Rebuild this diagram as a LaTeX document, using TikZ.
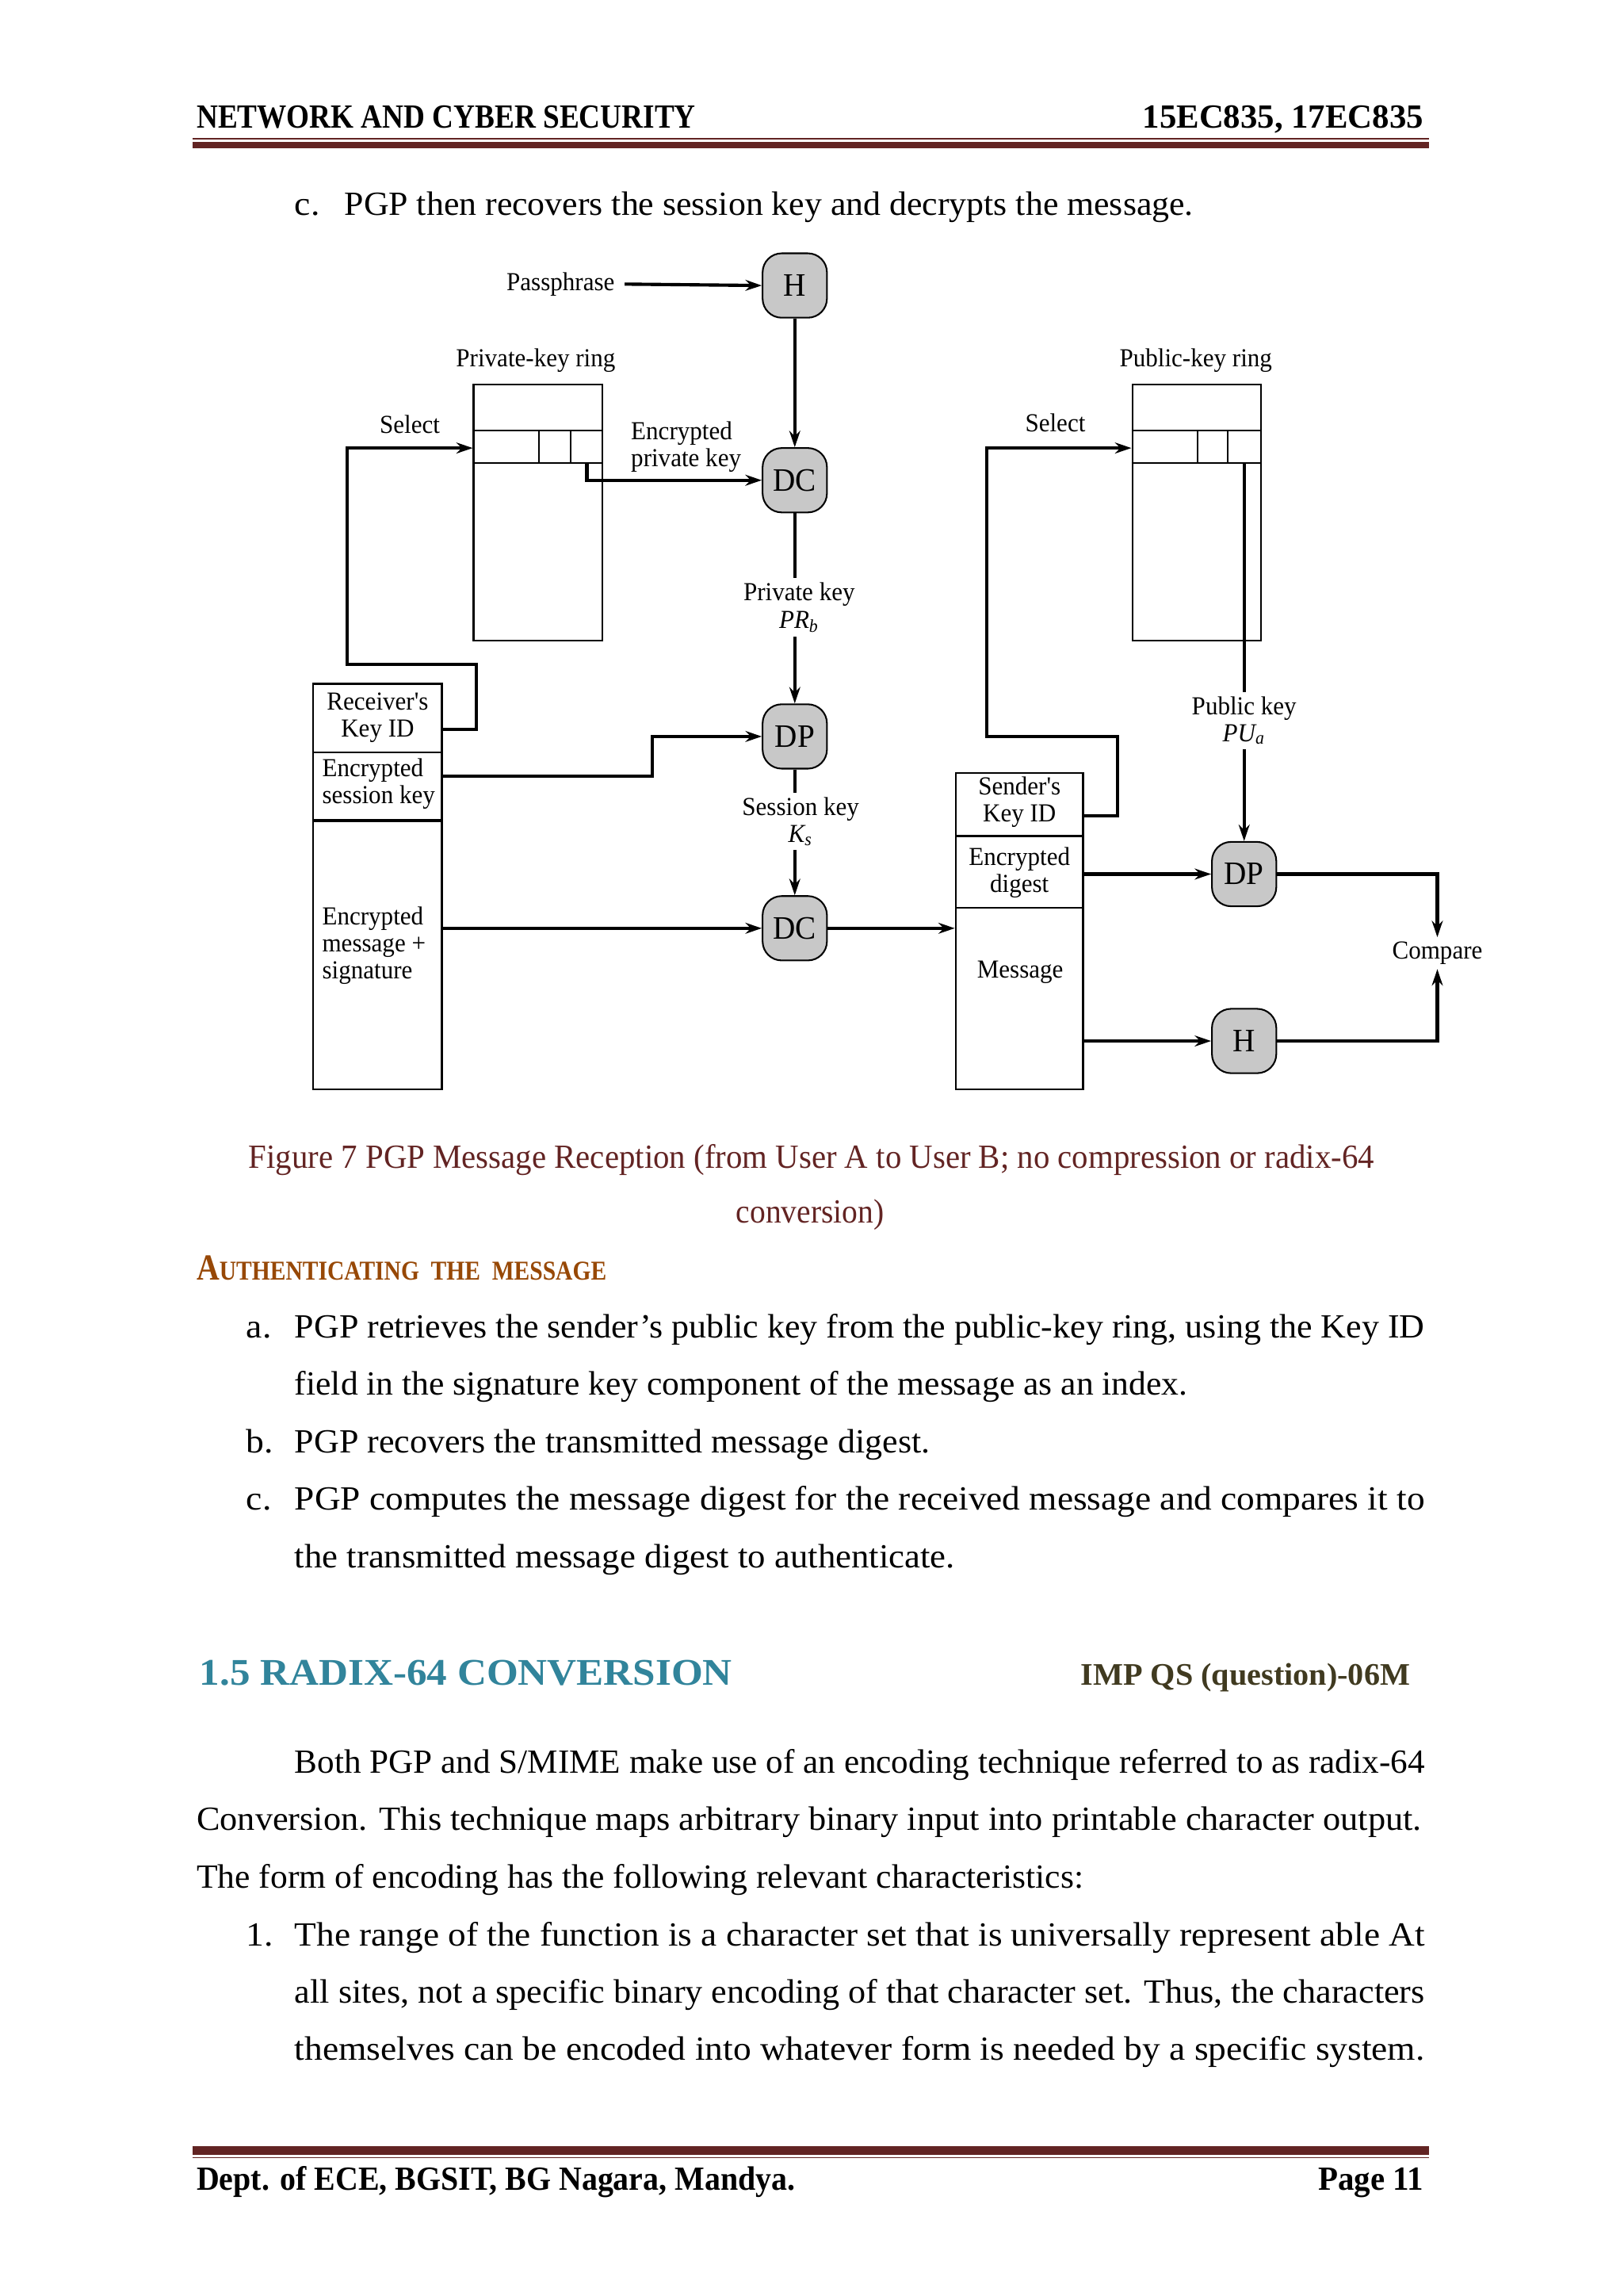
\documentclass[tikz,border=0pt]{standalone}
\usepackage{fontspec}
\usepackage{graphicx}
\setmainfont{Liberation Serif}[FakeStretch=1.07]
\newfontfamily\dfont{Liberation Serif}[FakeStretch=0.95]
\usetikzlibrary{arrows.meta,calc}
\newdimen\un \un=0.53677pt
\newsavebox\tbox
\newcommand\jline[2]{\sbox\tbox{#2}\ifdim\wd\tbox>#1\un\relax\resizebox{#1\un}{\height}{\usebox\tbox}\else\makebox[#1\un][s]{#2}\fi}
\newcommand\fitw[2]{\resizebox{#1\un}{\height}{#2}}
\definecolor{maroon}{HTML}{622423}
\definecolor{capred}{HTML}{632423}
\definecolor{authc}{HTML}{974806}
\definecolor{tealc}{HTML}{31849B}
\definecolor{impc}{HTML}{403A20}
\definecolor{procfill}{HTML}{C8C8C8}
\begin{document}
\begin{tikzpicture}[x=0.53677pt,y=-0.53677pt,
 txt/.style={inner sep=0pt,anchor=base west,font=\fontsize{12.4}{14}\selectfont},
 txtr/.style={txt,anchor=base east},
 txtc/.style={txt,anchor=base},
 dl/.style={inner sep=1.5pt,align=center,font=\dfont\fontsize{9.5}{9.9}\selectfont},
 dll/.style={dl,align=left},
 proc/.style={draw=black,fill=procfill,rounded corners=7pt,minimum width=23.6pt,minimum height=23.6pt,inner sep=0pt,line width=0.6pt,font=\dfont\fontsize{12}{12}\selectfont},
 fld/.style={draw=black,line width=0.7pt,inner sep=0pt,minimum width=47.2pt},
 ringbox/.style={draw=black,line width=0.7pt,inner sep=0pt,minimum width=47.24pt,minimum height=93.93pt,anchor=north west},
 ringline/.style={draw=black,line width=0.6pt},
 conn/.style={line width=1.2pt,draw=black},
 arr/.style={conn,-{Stealth[length=6pt,width=4pt]}}]

\useasboundingbox (0,0) rectangle (1109,1568.19);
\fill[white] (0,0) rectangle (1109,1568.19);

% ---------- header ----------
\node[txt] (hl) at (134,87.5) {\jline{341}{\bfseries NETWORK AND CYBER SECURITY}};
\node[txtr] (hr) at (973,87.5) {\jline{192}{\bfseries 15EC835, 17EC835}};
\fill[maroon] (131.4,94.3) rectangle (976.5,95.3);
\fill[maroon] (131.4,96.7) rectangle (976.5,101.5);

\node[txt] (c0) at (201,147) {c.};
\node[txt] (c0t) at (235,147) {\jline{580}{PGP then recovers the session key and decrypts the message.}};

% ---------- diagram ----------
\node[proc] (H1) at (543,195) {H};
\node[proc] (DC1) at (543,328) {DC};
\node[proc] (DP1) at (543,503) {DP};
\node[proc] (DC2) at (543,634) {DC};
\node[proc] (DP2) at (850,597) {DP};
\node[proc] (H2) at (850,711) {H};

\node[dl] (pass) at (383,194) {Passphrase};
\node[dl] (prkl) at (366,246) {Private-key ring};
\node[dl] (sel1) at (280,290) {Select};
\node[dll,anchor=west] (epk) at (428,305) {Encrypted\\private key};
\node[dl] (pkl) at (546,415) {Private key\\{\itshape PR\textsubscript{b}}};
\node[dl] (skl) at (547,561) {Session key\\{\itshape K\textsubscript{s}}};
\node[dl] (pukl) at (817,246) {Public-key ring};
\node[dl] (sel2) at (721,289) {Select};
\node[dl] (pul) at (850,492) {Public key\\{\itshape PU\textsubscript{a}}};
\node[dl] (cmp) at (982,651) {Compare};

% private-key ring
\node[ringbox] (prk) at (323,262) {};
\draw[ringline] (323,294) -- (411,294) (323,316) -- (411,316) (368,294) -- (368,316) (390,294) -- (390,316);
\coordinate (prkSel) at (323,306);
\coordinate (prkOut) at (401,316);
% public-key ring
\node[ringbox] (puk) at (773,262) {};
\draw[ringline] (773,294) -- (861,294) (773,316) -- (861,316) (818,294) -- (818,316) (839,294) -- (839,316);
\coordinate (pukSel) at (773,306);
\coordinate (pukOut) at (850,316);

% left message box
\node[fld,minimum height=25.23pt] (rkid) at (258,490.5) {};
\node[fld,minimum height=24.69pt] (esk) at (258,537) {};
\node[fld,minimum height=98.77pt] (ems) at (258,652) {};
\draw[line width=1.1pt] (esk.south west) -- (esk.south east);
\node[dl] (rkidt) at (258,490) {Receiver's\\Key ID};
\node[dll,anchor=west] (eskt) at (217,535.5) {Encrypted\\session key};
\node[dll,anchor=west] (emst) at (217,646) {Encrypted\\message +\\signature};

% right message box
\node[fld,minimum width=46.7pt,minimum height=23.08pt] (skid) at (696.5,549.5) {};
\node[fld,minimum width=46.7pt,minimum height=26.3pt] (edig) at (696.5,595.5) {};
\node[fld,minimum width=46.7pt,minimum height=66.56pt] (msg) at (696.5,682) {};
\node[dl] (skidt) at (696.5,548) {Sender's\\Key ID};
\node[dl] (edigt) at (696.5,596) {Encrypted\\digest};
\node[dl] (msgt) at (697,664) {Message};

% connectors
\draw[arr,shorten <=2pt] (pass.east) -- (H1.west);
\draw[arr] (H1.south) -- (DC1.north);
\draw[arr] ($(rkid.east)+(0,7.5)$) -- ++(23,0) |- (237,454) |- (prkSel);
\draw[arr] (prkOut) |- (DC1.west);
\draw[conn] (DC1.south) -- (DC1.south |- pkl.north);
\draw[arr] (DC1.south |- pkl.south) -- (DP1.north);
\draw[arr] ($(esk.east)+(0,-7)$) -- ++(143,0) |- (DP1.west);
\draw[conn] (DP1.south) -- (DP1.south |- skl.north);
\draw[arr] (DP1.south |- skl.south) -- (DC2.north);
\draw[arr] (ems.east |- DC2.west) -- (DC2.west);
\draw[arr] (DC2.east) -- (msg.west |- DC2.east);
\draw[arr] ($(skid.east)+(0,7.5)$) -- ++(23,0) |- (674,503) |- (pukSel);
\draw[conn] (pukOut) -- (pul.north);
\draw[arr] (pul.south) -- (DP2.north);
\draw[arr] (edig.east |- DP2.west) -- (DP2.west);
\draw[arr] (DP2.east) -| (cmp.north);
\draw[arr] (msg.east |- H2.west) -- (H2.west);
\draw[arr] (H2.east) -| (cmp.south);

% ---------- caption ----------
\node[txtc,text=capred] (cap1) at (554.5,798) {\jline{769}{Figure 7 PGP Message Reception (from User A to User B; no compression or radix-64}};
\node[txtc,text=capred] (cap2) at (553.5,835.5) {\jline{101}{conversion)}};

% ---------- authenticating ----------
\node[txt,text=authc] (auth) at (134,874.5) {\fitw{280}{\bfseries{\fontsize{13.5}{13.5}\selectfont A}{\fontsize{10}{10}\selectfont UTHENTICATING\ \ THE\ \ MESSAGE}}};

\node[txt] (la) at (168,914) {a.};
\node[txt] (la1) at (201,914) {\jline{772}{PGP retrieves the sender's public key from the public-key ring, using the Key ID}};
\node[txt] (la2) at (201,953) {\jline{610}{field in the signature key component of the message as an index.}};
\node[txt] (lb) at (168,992.5) {b.};
\node[txt] (lb1) at (201,992.5) {\jline{434}{PGP recovers the transmitted message digest.}};
\node[txt] (lc) at (168,1031.5) {c.};
\node[txt] (lc1) at (201,1031.5) {\jline{772}{PGP computes the message digest for the received message and compares it to}};
\node[txt] (lc2) at (201,1071) {\jline{451}{the transmitted message digest to authenticate.}};

% ---------- section ----------
\node[txt,text=tealc,font=\fontsize{13.8}{14}\selectfont] (s15) at (136,1151) {\fitw{364}{\bfseries 1.5 RADIX-64 CONVERSION}};
\node[txt,text=impc,font=\fontsize{11.5}{12}\selectfont] (imp) at (738,1151) {\fitw{225}{\bfseries IMP QS (question)-06M}};

\node[txt] (p1) at (201,1211) {\jline{772}{Both PGP and S/MIME make use of an encoding technique referred to as radix-64}};
\node[txt] (p2) at (134,1250) {\jline{837}{Conversion. This technique maps arbitrary binary input into printable character output.}};
\node[txt] (p3) at (134,1289.5) {\jline{606}{The form of encoding has the following relevant characteristics:}};
\node[txt] (n1) at (168,1329) {1.};
\node[txt] (n1a) at (201,1329) {\jline{772}{The range of the function is a character set that is universally represent able At}};
\node[txt] (n1b) at (201,1368) {\jline{772}{all sites, not a specific binary encoding of that character set. Thus, the characters}};
\node[txt] (n1c) at (201,1407) {\jline{772}{themselves can be encoded into whatever form is needed by a specific system.}};

% ---------- footer ----------
\fill[maroon] (131.4,1466) rectangle (976.5,1472);
\fill[maroon] (131.4,1473.3) rectangle (976.5,1474.2);
\node[txt] (fl) at (134,1496) {\jline{409}{\bfseries Dept. of ECE, BGSIT, BG Nagara, Mandya.}};
\node[txtr] (fr) at (973,1496) {\jline{72}{\bfseries Page 11}};
\end{tikzpicture}
\end{document}
